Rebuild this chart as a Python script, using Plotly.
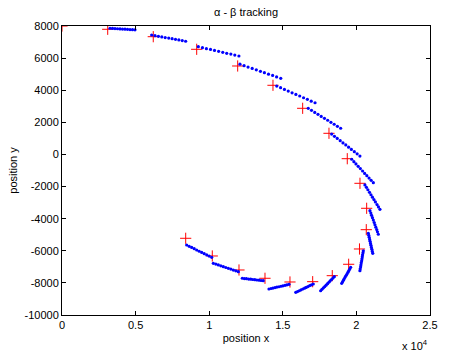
import plotly.graph_objects as go

# Measurements (red +)
meas_x = [0, 3105, 6200, 9150, 11935, 14333, 16350, 18137, 19380, 20243, 20698,
          20671, 20209, 19475, 18361, 17030, 15488, 13790, 12024, 10210, 8403]
meas_y = [8000, 7795, 7334, 6549, 5509, 4307, 2874, 1317, -265, -1797, -3354,
          -4686, -5888, -6841, -7551, -7925, -7944, -7713, -7196, -6324, -5222]

# Alpha-beta tracker predictions (blue dots), one list per interval
track_x = [
    [3260, 3430, 3600, 3770, 3940, 4110, 4280, 4450, 4620, 4790, 4960],
    [6090, 6320, 6550, 6780, 7010, 7250, 7480, 7710, 7940, 8170, 8400],
    [9260, 9540, 9810, 10090, 10360, 10640, 10920, 11190, 11470, 11740, 12020],
    [12090, 12370, 12640, 12920, 13200, 13480, 13750, 14030, 14310, 14580, 14860],
    [14590, 14850, 15110, 15370, 15630, 15890, 16150, 16410, 16670, 16930, 17190],
    [16730, 16950, 17170, 17390, 17610, 17830, 18050, 18270, 18490, 18710, 18930],
    [18320, 18510, 18700, 18900, 19090, 19280, 19470, 19660, 19860, 20050, 20240],
    [19680, 19830, 19970, 20120, 20270, 20420, 20560, 20710, 20860, 21000, 21150],
    [20580, 20680, 20780, 20890, 20990, 21090, 21190, 21290, 21400, 21500, 21600],
    [20920, 20980, 21030, 21090, 21150, 21210, 21260, 21320, 21380, 21430, 21490],
    [20810, 20840, 20870, 20900, 20930, 20960, 20990, 21020, 21050, 21080, 21110],
    [20470, 20450, 20420, 20400, 20380, 20360, 20330, 20310, 20290, 20260, 20240],
    [19610, 19550, 19490, 19430, 19370, 19310, 19240, 19180, 19120, 19060, 19000],
    [18500, 18410, 18310, 18220, 18130, 18040, 17940, 17850, 17760, 17660, 17570],
    [17070, 16950, 16830, 16710, 16590, 16480, 16360, 16240, 16120, 16000, 15880],
    [15420, 15280, 15150, 15010, 14880, 14740, 14600, 14470, 14330, 14200, 14060],
    [13670, 13530, 13390, 13240, 13100, 12960, 12820, 12680, 12530, 12390, 12250],
    [11980, 11810, 11640, 11470, 11300, 11130, 10960, 10790, 10620, 10450, 10280],
    [10170, 10000, 9830, 9660, 9490, 9320, 9150, 8980, 8810, 8640, 8470],
]
track_y = [
    [7860, 7850, 7840, 7830, 7820, 7810, 7800, 7790, 7780, 7770, 7760],
    [7440, 7400, 7360, 7320, 7280, 7250, 7210, 7170, 7130, 7090, 7050],
    [6710, 6650, 6590, 6540, 6480, 6420, 6360, 6300, 6250, 6190, 6130],
    [5620, 5530, 5440, 5360, 5270, 5180, 5090, 5000, 4920, 4830, 4740],
    [4260, 4160, 4050, 3950, 3840, 3740, 3640, 3530, 3430, 3320, 3220],
    [2870, 2750, 2620, 2500, 2370, 2250, 2130, 2000, 1880, 1750, 1630],
    [1270, 1130, 1000, 860, 720, 590, 450, 310, 170, 40, -100],
    [-300, -450, -590, -740, -880, -1030, -1180, -1320, -1470, -1610, -1760],
    [-1900, -2050, -2200, -2360, -2510, -2660, -2810, -2960, -3120, -3270, -3420],
    [-3500, -3650, -3790, -3940, -4090, -4240, -4380, -4530, -4680, -4820, -4970],
    [-4910, -5040, -5160, -5290, -5410, -5540, -5660, -5790, -5910, -6040, -6160],
    [-6000, -6120, -6250, -6370, -6500, -6620, -6740, -6870, -6990, -7120, -7240],
    [-7030, -7130, -7230, -7330, -7430, -7530, -7630, -7730, -7830, -7930, -8030],
    [-7610, -7700, -7790, -7870, -7960, -8050, -8140, -8230, -8310, -8400, -8490],
    [-8070, -8120, -8170, -8230, -8280, -8330, -8380, -8430, -8490, -8540, -8590],
    [-8090, -8120, -8150, -8180, -8210, -8240, -8260, -8290, -8320, -8350, -8380],
    [-7860, -7850, -7830, -7820, -7800, -7790, -7770, -7760, -7740, -7730, -7710],
    [-7300, -7250, -7200, -7140, -7090, -7040, -6990, -6940, -6880, -6830, -6780],
    [-6410, -6330, -6260, -6180, -6100, -6030, -5950, -5870, -5790, -5720, -5640],
]

x_tickvals = [0, 5000, 10000, 15000, 20000, 25000]
x_ticktext = ["0", "0.5", "1", "1.5", "2", "2.5"]
y_tickvals = [8000, 6000, 4000, 2000, 0, -2000, -4000, -6000, -8000, -10000]
y_ticktext = ["8000", "6000", "4000", "2000", "0", "-2000", "-4000", "-6000", "-8000", "-10000"]

FONT = "Liberation Sans, Arial, sans-serif"

fig = go.Figure()
fig.add_trace(go.Scatter(
    x=meas_x, y=meas_y, mode="markers",
    marker=dict(symbol="cross-thin", size=8, line=dict(color="#ff0000", width=1)),
    showlegend=False, hoverinfo="x+y"))

all_x = [v for seg in track_x for v in seg]
all_y = [v for seg in track_y for v in seg]
fig.add_trace(go.Scatter(
    x=all_x, y=all_y, mode="markers",
    marker=dict(symbol="circle", size=3.2, color="#0000ff"),
    showlegend=False, hoverinfo="x+y"))

axis_common = dict(
    showgrid=False, zeroline=False, showline=True, linecolor="black", linewidth=1,
    mirror="allticks", ticks="inside", ticklen=4, tickcolor="black",
    tickfont=dict(family=FONT, size=11, color="black"),
)
fig.update_xaxes(range=[0, 25000], tickvals=x_tickvals, ticktext=x_ticktext,
                 title=dict(text="position x", font=dict(family=FONT, size=11, color="black"), standoff=4),
                 **axis_common)
fig.update_yaxes(range=[-10000, 8000], tickvals=y_tickvals, ticktext=y_ticktext,
                 title=dict(text="position y", font=dict(family=FONT, size=11, color="black"), standoff=4),
                 **axis_common)

fig.update_layout(
    width=474, height=354,
    margin=dict(l=62, r=44, t=26, b=39, pad=0),
    paper_bgcolor="white", plot_bgcolor="white",
    title=dict(text="α - β tracking", x=0.519, xanchor="center", y=0.966, yanchor="middle",
               font=dict(family=FONT, size=11, color="black")),
    annotations=[dict(text="x 10<sup>4</sup>", xref="paper", yref="paper", x=1.0, y=-0.104,
                      xanchor="right", yanchor="middle", showarrow=False,
                      font=dict(family=FONT, size=11, color="black"))],
)

fig.write_html("out.html")
